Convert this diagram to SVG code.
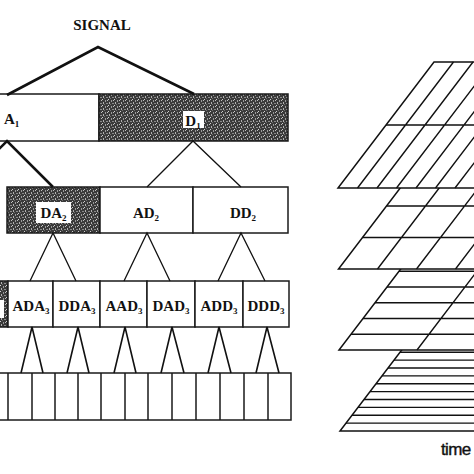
<svg xmlns="http://www.w3.org/2000/svg" width="474" height="474" viewBox="0 0 474 474">
<style>
.row{fill:#fff;stroke:#1a1a1a;stroke-width:1.5}
.shade{fill:url(#tex);stroke:#1a1a1a;stroke-width:1.5}
.div{stroke:#1a1a1a;stroke-width:1.5}
.thick{stroke:#111;stroke-width:2.6;fill:none}
.thin{stroke:#111;stroke-width:1.3;fill:none}
.mid{stroke:#111;stroke-width:1.6;fill:none}
.lbl{font-family:"Liberation Serif","Times New Roman",serif;font-size:15px;font-weight:bold;fill:#111;text-anchor:middle}
.sub{font-size:9px}
.plane{fill:#fff;stroke:#111;stroke-width:1.5}
.grid{stroke:#111;stroke-width:1.4;fill:none}
.wbox{fill:#fff;stroke:none}
</style>
<defs>
<pattern id="tex" width="6" height="6" patternUnits="userSpaceOnUse">
<rect width="6" height="6" fill="#3a3a3a"/>
<rect x="1" y="0" width="1" height="2" fill="#b0b0b0"/>
<rect x="4" y="1" width="2" height="1" fill="#8a8a8a"/>
<rect x="0" y="3" width="1" height="1" fill="#d0d0d0"/>
<rect x="3" y="4" width="1" height="2" fill="#9a9a9a"/>
<rect x="5" y="4" width="1" height="1" fill="#c0c0c0"/>
<rect x="2" y="2" width="1" height="1" fill="#707070"/>
</pattern>
</defs>
<rect width="474" height="474" fill="#fff"/>

<g id="signal">
<text x="102" y="30" font-family="Liberation Serif, Times New Roman, serif" font-size="15" font-weight="bold" text-anchor="middle" fill="#111">SIGNAL</text>
</g>

<g id="level1">
<g id="A1">
<rect class="row" x="-2" y="94" width="101" height="47"/>
<text class="lbl" x="4" y="124" style="text-anchor:start">A<tspan class="sub" dy="3">1</tspan></text>
</g>
<g id="D1">
<rect class="shade" x="99" y="94" width="189" height="47"/>
<rect class="wbox" x="183" y="111" width="21" height="17"/>
<text class="lbl" x="193" y="126">D<tspan class="sub" dy="3">1</tspan></text>
</g>
</g>

<g id="level2">
<g id="DA2">
<rect class="shade" x="7" y="187" width="93" height="46"/>
<rect class="wbox" x="36" y="202" width="35" height="21"/>
<text class="lbl" x="53.5" y="218">DA<tspan class="sub" dy="3">2</tspan></text>
</g>
<g id="AD2">
<rect class="row" x="100" y="187" width="93" height="46"/>
<text class="lbl" x="146" y="218">AD<tspan class="sub" dy="3">2</tspan></text>
</g>
<g id="DD2">
<rect class="row" x="193" y="187" width="95" height="46"/>
<text class="lbl" x="243" y="218">DD<tspan class="sub" dy="3">2</tspan></text>
</g>
</g>

<g id="level3">
<g id="DAA3">
<rect class="shade" x="-3" y="281" width="11" height="46"/>
<rect class="wbox" x="0" y="300" width="4" height="18"/>
</g>
<g id="ADA3">
<rect class="row" x="8" y="281" width="45" height="46"/>
<text class="lbl" x="31" y="311">ADA<tspan class="sub" dy="3">3</tspan></text>
</g>
<g id="DDA3">
<rect class="row" x="53" y="281" width="47" height="46"/>
<text class="lbl" x="77" y="311">DDA<tspan class="sub" dy="3">3</tspan></text>
</g>
<g id="AAD3">
<rect class="row" x="100" y="281" width="47" height="46"/>
<text class="lbl" x="124" y="311">AAD<tspan class="sub" dy="3">3</tspan></text>
</g>
<g id="DAD3">
<rect class="row" x="147" y="281" width="48" height="46"/>
<text class="lbl" x="171" y="311">DAD<tspan class="sub" dy="3">3</tspan></text>
</g>
<g id="ADD3">
<rect class="row" x="195" y="281" width="48" height="46"/>
<text class="lbl" x="219" y="311">ADD<tspan class="sub" dy="3">3</tspan></text>
</g>
<g id="DDD3">
<rect class="row" x="243" y="281" width="46" height="46"/>
<text class="lbl" x="266" y="311">DDD<tspan class="sub" dy="3">3</tspan></text>
</g>
</g>

<g id="level4">
<rect class="row" x="-2" y="373" width="293" height="47"/>
<path class="div" d="M8 373V420M32 373V420M55 373V420M78 373V420M101 373V420M125 373V420M148 373V420M172 373V420M196 373V420M220 373V420M244 373V420M268 373V420"/>
</g>

<g id="connectors">
<path class="thick" d="M7 95L98 47L194 94"/>
<path class="thick" d="M-39 187L7 141L53 187"/>
<path class="thin" d="M147 187L193 141L241 187"/>
<path class="thin" d="M30 281L53 233L76 281M124 281L147 233L170 281M218 281L241 233L265 281"/>
<path class="mid" d="M21 373L32 327L43 373M67 373L78 327L89 373M114 373L125 327L136 373M161 373L172 327L184 373M208 373L219 327L231 373M256 373L267 327L279 373"/>
</g>

<g id="tiling">
<g id="plane4">
<polygon class="plane" points="436,305 480,305 480,431 340,431"/>
<path class="grid" d="M430 312.9H480M424 320.8H480M418 328.6H480M412 336.5H480M406 344.4H480M400 352.3H480M394 360.1H480M388 368H480M382 375.9H480M376 383.8H480M370 391.6H480M364 399.5H480M358 407.4H480M352 415.3H480M346 423.1H480"/>
</g>
<g id="plane3">
<polygon class="plane" points="435,224 480,224 480,350 339,350"/>
<path class="grid" d="M423 239.75H480M411 255.5H480M399 271.25H480M387 287H480M375 302.75H480M363 318.5H480M351 334.25H480M417 350L513 224"/>
</g>
<g id="plane2">
<polygon class="plane" points="434.5,143 480,143 480,269 338.5,269"/>
<path class="grid" d="M410.5 174.5H480M386.5 206H480M362.5 237.5H480M377.5 269L473.5 143M416.5 269L512.5 143M455.5 269L551.5 143"/>
</g>
<g id="plane1">
<polygon class="plane" points="434,62 480,62 480,188 338,188"/>
<path class="grid" d="M386 125H480M357.5 188L453.5 62M377 188L473 62M396.5 188L492.5 62M416 188L512 62M435.5 188L531.5 62M455 188L551 62"/>
</g>
<text x="441" y="455" font-family="Liberation Sans, Arial, sans-serif" font-size="17" fill="#111" stroke="#111" stroke-width="0.4" letter-spacing="-0.6">time</text>
</g>
</svg>
